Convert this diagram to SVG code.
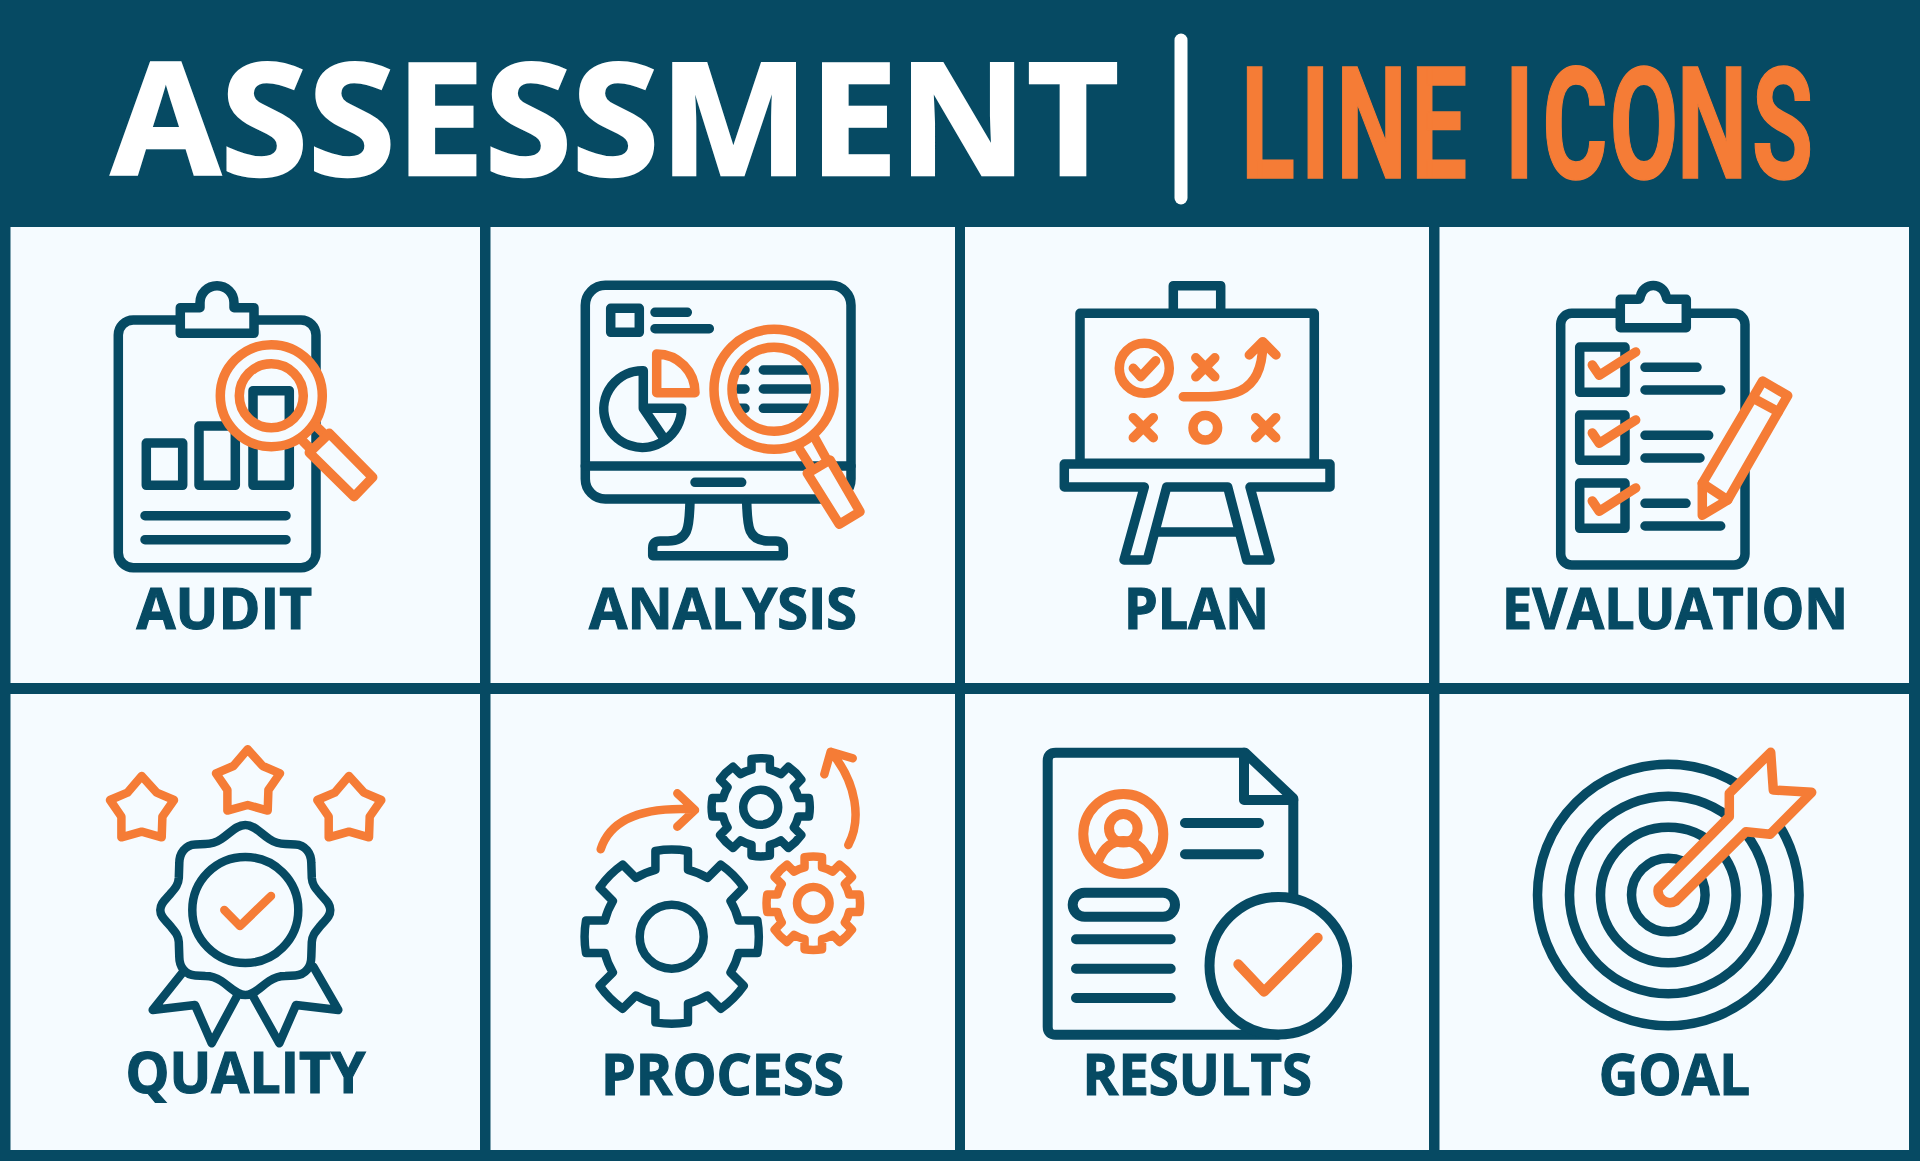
<svg xmlns="http://www.w3.org/2000/svg" xmlns:xlink="http://www.w3.org/1999/xlink" width="1920" height="1161" viewBox="0 0 1920 1161">
<style>
.d{fill:none;stroke:#064A63;stroke-width:9.5;stroke-linecap:round;stroke-linejoin:round}
.o{fill:none;stroke:#F57C36;stroke-width:9.5;stroke-linecap:round;stroke-linejoin:round}
.f{fill:#F5FBFF}
.m{fill:none;stroke:#F5FBFF}
.cell{fill:#F5FBFF}
.lab{font-family:"Open Sans","Noto Sans",sans-serif;font-weight:700;font-size:57px;fill:#064A63;stroke:#064A63;stroke-width:1.2}
#quality .d,#quality .o,#process circle.d,#process circle.o,#process path.o{stroke-width:8.5}
#results .d,#results .o{stroke-width:10}
</style>
<defs>
<path id="gear" d="M-19 -78L-19 -100A110 110 0 0 1 19 -100L19 -78A79 79 0 0 1 41.7 -68.6L57.3 -84.1A110 110 0 0 1 84.1 -57.3L68.6 -41.7A79 79 0 0 1 78 -19L100 -19A110 110 0 0 1 100 19L78 19A79 79 0 0 1 68.6 41.7L84.1 57.3A110 110 0 0 1 57.3 84.1L41.7 68.6A79 79 0 0 1 19 78L19 100A110 110 0 0 1 -19 100L-19 78A79 79 0 0 1 -41.7 68.6L-57.3 84.1A110 110 0 0 1 -84.1 57.3L-68.6 41.7A79 79 0 0 1 -78 19L-100 19A110 110 0 0 1 -100 -19L-78 -19A79 79 0 0 1 -68.6 -41.7L-84.1 -57.3A110 110 0 0 1 -57.3 -84.1L-41.7 -68.6A79 79 0 0 1 -19 -78Z"/>
<path id="star" d="M0 0L15 16.7L32.3 24L20.7 40.7L20 61.3L0 55.7L-20.3 61.3L-20.3 40.7L-31.7 24L-14.3 16.7Z"/>
<path id="chk" d="M1592.3 365L1599.3 375.3L1635.7 352"/>
</defs>
<rect width="1920" height="1161" fill="#064A63"/>
<g id="grid">
<rect class="cell" x="10.5" y="227" width="469.5" height="456"/>
<rect class="cell" x="490.5" y="227" width="464.5" height="456"/>
<rect class="cell" x="965" y="227" width="464" height="456"/>
<rect class="cell" x="1439.5" y="227" width="469.5" height="456"/>
<rect class="cell" x="10.5" y="694" width="469.5" height="456"/>
<rect class="cell" x="490.5" y="694" width="464.5" height="456"/>
<rect class="cell" x="965" y="694" width="464" height="456"/>
<rect class="cell" x="1439.5" y="694" width="469.5" height="456"/>
</g>
<g id="title">
<text x="111" y="175" font-family="'Open Sans','Noto Sans',sans-serif" font-weight="700" font-size="157" fill="#FFFFFF" stroke="#FFFFFF" stroke-width="2.5" textLength="1008" lengthAdjust="spacingAndGlyphs">ASSESSMENT</text>
<line x1="1181" y1="40" x2="1181" y2="198" stroke="#FFFFFF" stroke-width="13" stroke-linecap="round"/>
<text transform="translate(1248 177.5) scale(.64 1)" x="-11 82.5 138 254.6 380 401 459.6 565 670 787" y="0" font-family="Roboto,'Liberation Sans',sans-serif" font-weight="700" font-size="156" fill="#F57C36" stroke="#F57C36" stroke-width="1.5">LINE ICONS</text>
</g>
<g id="audit">
<rect class="d" x="118.3" y="320" width="197.7" height="247.7" rx="15"/>
<path class="d f" d="M180.3 333.3V307.7H200V302.7A17 17 0 0 1 234 302.7V307.7H254V333.3Z"/>
<rect class="d" x="146.3" y="443" width="36.4" height="42.3"/>
<rect class="d" x="199" y="426" width="36.3" height="59.3"/>
<rect class="d" x="253" y="390.7" width="36.3" height="94.6"/>
<path class="d" d="M145 515.7H286M145 539.7H286"/>
<circle class="m" cx="271.3" cy="395.7" r="41.5" stroke-width="19"/>
<circle class="o" cx="271.3" cy="395.7" r="51"/>
<circle class="o" cx="271.3" cy="395.7" r="32"/>
<path class="o" d="M316.7 426.7L326 435.7M303.3 441.7L311.7 450"/>
<path class="o f" d="M329.3 433.3L372.7 477.3L354 496.7L309.3 452.7Z"/>
<text class="lab" x="136.5" y="628.5" textLength="175.5" lengthAdjust="spacingAndGlyphs">AUDIT</text>
</g>
<g id="analysis">
<rect class="d" x="585.3" y="285.3" width="265.7" height="213.7" rx="20"/>
<path class="d" d="M585.3 466H851M695 482.3H741.7"/>
<path class="d" d="M690 502C689 525 690 541 668 541H660Q652.7 541 652.7 548V555.7H783.3V548Q783.3 541 776 541H769C747 541 747.5 525 746.7 502"/>
<rect class="d" x="610.7" y="308.3" width="28.6" height="24"/>
<path class="d" d="M655 312.3H687.3M655 328.7H709.3"/>
<path class="d" d="M643.3 370.7A38.4 38.4 0 1 0 665 440M643.3 370.7V408.3M643.3 408.3L665 440A38.4 38.4 0 0 0 681.7 408.3Z"/>
<path class="o" d="M656.7 354V392.7H695A38.5 38.5 0 0 0 656.7 354Z"/>
<path class="d" d="M738 370H745M738 389H745M738 408.3H745M763.3 370H810M763.3 389H810M763.3 408.3H810"/>
<circle class="m" cx="774" cy="389.3" r="51" stroke-width="12"/>
<circle class="o" cx="774" cy="389.3" r="60"/>
<circle class="o" cx="774" cy="389.3" r="42"/>
<path class="o" d="M800 450L810.7 466.7M815 438.3L826 458.3"/>
<path class="o f" d="M830 460L860 511.7L839.3 524.3L807.3 473.3Z"/>
<text class="lab" x="589" y="628.5" textLength="268" lengthAdjust="spacingAndGlyphs">ANALYSIS</text>
</g>
<g id="plan">
<path class="d" d="M1173.3 313.3V285.7H1220.7V313.3"/>
<rect class="d" x="1080" y="313.3" width="234.3" height="150"/>
<path class="d f" d="M1144.3 487H1064.3V464H1330V487H1250L1270 560H1246.7L1227.7 487H1166.7L1147.3 560H1124Z"/>
<path class="d" d="M1158.3 532H1237.3"/>
<circle class="o" cx="1144.3" cy="368.3" r="25"/>
<path class="o" d="M1133.3 368.3L1140.7 376.7L1155.7 360.7"/>
<path class="o" d="M1195.8 357.8L1214.8 376.8M1214.8 357.8L1195.8 376.8"/>
<path class="o" d="M1183.3 396.7C1225 397 1262 400 1262.7 345M1249.3 355L1262.7 341.7L1276 355"/>
<path class="o" d="M1133.3 417.7L1153.3 437.7M1153.3 417.7L1133.3 437.7"/>
<circle class="o" cx="1205.3" cy="427.7" r="12.3"/>
<path class="o" d="M1255.7 417.7L1275.7 437.7M1275.7 417.7L1255.7 437.7"/>
<text class="lab" x="1124" y="628.5" textLength="145" lengthAdjust="spacingAndGlyphs">PLAN</text>
</g>
<g id="evaluation">
<rect class="d" x="1560.7" y="313.3" width="184.3" height="251.7" rx="11"/>
<path class="d f" d="M1620.3 327.7V299.3H1638Q1640 299.3 1640.5 296A13 13 0 0 1 1666 296Q1666.5 299.3 1669 299.3H1686.3V327.7Z"/>
<rect class="d" x="1579.7" y="347" width="45.3" height="45.3"/>
<rect class="d" x="1579.7" y="415" width="45.3" height="45.3"/>
<rect class="d" x="1579.7" y="483" width="45.3" height="45.3"/>
<use href="#chk" class="o"/>
<use href="#chk" class="o" y="68"/>
<use href="#chk" class="o" y="136"/>
<path class="d" d="M1645 367.3H1697M1645 390H1720.7M1645 435.3H1708.7M1645 458H1700M1645 503.3H1686M1645 526H1720.7"/>
<path class="o f" d="M1762.7 381L1787.7 395.7L1727.7 500L1702.3 515.3V483.3Z"/>
<path class="o" d="M1702.3 483.3L1727.7 500M1753.3 398.3L1778.3 411.7"/>
<text class="lab" x="1502" y="628.5" textLength="346" lengthAdjust="spacingAndGlyphs">EVALUATION</text>
</g>
<g id="quality">
<use href="#star" class="o" x="247.7" y="749.3"/>
<use href="#star" class="o" x="141.7" y="776"/>
<use href="#star" class="o" x="349" y="776"/>
<path class="d" d="M187.3 966.7L152.7 1010L195 1005L211.7 1043.3L236.7 996.7M313.3 966.7L338.3 1010L296 1005L279.3 1043.3L253.3 996.7"/>
<path class="d f" transform="translate(245.3 910)" d="M0 -85C-9 -85 -15 -77 -24 -71C-30 -67 -34 -66 -40 -66L-50 -65.5C-60 -65 -66 -57 -66 -47L-66.5 -32C-67 -25 -70 -22 -75 -16C-80 -10 -85 -7 -85 0C-85 7 -80 10 -75 16C-70 22 -67 25 -66.5 32L-66 47C-66 57 -60 65 -50 65.5L-40 66C-34 66 -30 67 -24 71C-15 77 -9 85 0 85C9 85 15 77 24 71C30 67 34 66 40 66L50 65.5C60 65 66 57 66 47L66.5 32C67 25 70 22 75 16C80 10 85 7 85 0C85 -7 80 -10 75 -16C70 -22 67 -25 66.5 -32L66 -47C66 -57 60 -65 50 -65.5L40 -66C34 -66 30 -67 24 -71C15 -77 9 -85 0 -85Z"/>
<circle class="d" cx="245.3" cy="910" r="53"/>
<path class="o" d="M224.3 910L240 926L271 896"/>
<text class="lab" x="125.5" y="1093" textLength="240" lengthAdjust="spacingAndGlyphs">QUALITY</text>
</g>
<g id="process">
<use href="#gear" class="d" transform="translate(671.7 936.7) scale(.857)" style="stroke-width:9.9"/>
<circle class="d" cx="671.7" cy="936.7" r="32"/>
<use href="#gear" class="d" transform="translate(760.7 807.3) scale(.483)" style="stroke-width:17.6"/>
<circle class="d" cx="760.7" cy="807.3" r="17.5"/>
<use href="#gear" class="o" transform="translate(813.3 903.3) scale(.46)" style="stroke-width:18.5"/>
<circle class="o" cx="813.3" cy="903.3" r="16.3"/>
<path class="o" d="M600.7 849.3C610 820 640 806.7 693 809.3M677.3 793.3L695 810L677.3 826.7"/>
<path class="o" d="M848.3 845C861.7 820 856.7 783.3 831.7 752.7M824.3 774.3L830.7 751.7L852.7 758.3"/>
<text class="lab" x="601" y="1095" textLength="243" lengthAdjust="spacingAndGlyphs">PROCESS</text>
</g>
<g id="results">
<path class="d" d="M1293.3 900V798.3L1245 752.7H1055.7Q1047.7 752.7 1047.7 760.7V1026.7Q1047.7 1034.7 1055.7 1034.7H1278.3"/>
<path class="d" d="M1244 752.7V800H1293.3"/>
<circle class="o" cx="1123.3" cy="834" r="40"/>
<circle class="o" cx="1123.3" cy="828.3" r="14.3"/>
<path class="o" d="M1098.3 861C1104 846 1114 841 1123.3 841C1133 841 1143 846 1148.3 861"/>
<path class="d" d="M1185 823H1259M1185 854.3H1259M1076 939.3H1170.7M1076 968.7H1170.7M1076 998H1170.7"/>
<rect class="d" x="1072.7" y="892.7" width="102.3" height="24" rx="12"/>
<circle class="d f" cx="1278.3" cy="965.7" r="68.8"/>
<path class="o" d="M1238.3 964.3L1264 991.7L1317.7 937.7"/>
<text class="lab" x="1082.5" y="1095" textLength="229.5" lengthAdjust="spacingAndGlyphs">RESULTS</text>
</g>
<g id="goal">
<circle class="d" cx="1668.3" cy="895" r="130.8"/>
<circle class="d" cx="1668.3" cy="895" r="98.8"/>
<circle class="d" cx="1668.3" cy="895" r="67.8"/>
<circle class="d" cx="1668.3" cy="895" r="36.8"/>
<path class="o f" d="M1658.3 888.3L1729.3 816.7L1729.3 793.3L1770.7 752.3L1773.3 790L1811.7 792.3L1770 834.3L1746 831.7L1676 901A12 12 0 0 1 1658.3 888.3Z"/>
<text class="lab" x="1598.7" y="1095" textLength="151.5" lengthAdjust="spacingAndGlyphs">GOAL</text>
</g>
</svg>
